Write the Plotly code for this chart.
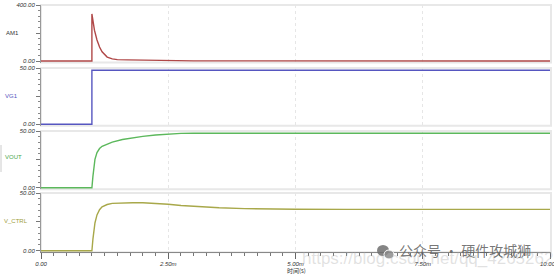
import plotly.graph_objects as go

# ---------------- data (time in ms) ----------------
t_am1 = [0, 1.0, 1.0, 1.02, 1.05, 1.1, 1.15, 1.2, 1.25, 1.3, 1.4, 1.5, 1.7, 2.0, 2.5, 3.0, 10.0]
am1 = [0, 0, 336, 290, 220, 150, 100, 66, 44, 28, 15, 10, 8, 6, 3, 1, 0]

t_vg1 = [0, 1.0, 1.0, 10.0]
vg1 = [0, 0, 48, 48]

t_vout = [0, 1.0, 1.02, 1.04, 1.06, 1.1, 1.15, 1.2, 1.3, 1.4, 1.6, 1.8, 2.0, 2.25, 2.5, 2.75, 3.0, 10.0]
vout = [0, 0, 10, 19, 25, 31, 34.5, 36.5, 38.5, 40.2, 42.5, 44, 45.3, 46.5, 47.4, 47.9, 48, 48]

t_vctrl = [0, 1.0, 1.02, 1.04, 1.06, 1.1, 1.15, 1.2, 1.3, 1.4, 1.6, 1.8, 2.0, 2.25, 2.5, 2.75, 3.0, 3.5, 4.0, 4.5, 5.0, 6.0, 10.0]
vctrl = [0, 0, 10, 18, 24, 31, 35.5, 38, 40, 41, 41.5, 41.6, 41.5, 41, 40.2, 39.2, 38.4, 37.2, 36.5, 36.1, 35.9, 35.8, 35.8]

names = ["AM1", "VG1", "VOUT", "V_CTRL"]
vmaxs = [400, 50, 50, 50]
top_labels = ["400.00", "50.00", "50.00", "50.00"]
x_tickvals = [0, 2.5, 5, 7.5, 10]
x_ticktext = ["0.00", "2.50m", "5.00m", "7.50m", "10.00m"]
x_title = "时间(s)"

# ---------------- styling / layout ----------------
W, H = 554, 274
L, R, T, B = 41, 3, 5, 21
PW, PH = W - L - R, H - T - B
def fy(ypx):
    return (H - B - ypx) / PH
def fx(xpx):
    return (xpx - L) / PW

colors = ["#b04848", "#5656c0", "#5cb85c", "#a8a84a"]
label_colors = ["#333333", "#5656c0", "#4aa84a", "#a0a040"]
panels = [(5, 61), (68, 124.3), (131, 187.7), (193, 250.7)]  # top px, zero px
label_pos = [(4, 33), (3, 96), (3, 157), (2, 221)]

series = [(t_am1, am1), (t_vg1, vg1), (t_vout, vout), (t_vctrl, vctrl)]
tick_font = dict(family="Liberation Sans", size=6, color="#333333", style="italic")

fig = go.Figure()
layout = dict(
    width=W, height=H,
    margin=dict(l=L, r=R, t=T, b=B, autoexpand=False),
    paper_bgcolor="white", plot_bgcolor="white",
    showlegend=False,
    shapes=[], annotations=[],
)

pad = 1.5
for i in range(4):
    yname = "y" if i == 0 else f"y{i+1}"
    tx, vy = series[i]
    fig.add_trace(go.Scatter(x=tx, y=vy, mode="lines", xaxis="x", yaxis=yname,
                             line=dict(color=colors[i], width=1.4),
                             hoverinfo="skip"))
    top, zero = panels[i]
    vmax = vmaxs[i]
    lo = -vmax * pad / (zero - top)
    d0 = max(0.0, fy(zero + pad))
    d1 = min(1.0, fy(top))
    ax = dict(
        domain=[d0, d1],
        range=[lo, vmax],
        anchor="x",
        tickvals=[0, vmax / 2, vmax],
        ticktext=["0.00", "", top_labels[i]],
        ticks="outside", ticklen=4, tickcolor="#777", tickwidth=1,
        minor=dict(dtick=vmax / 10, ticks="outside", ticklen=2, tickcolor="#888", showgrid=False),
        showline=True, linecolor="#999999", linewidth=1,
        showgrid=False, zeroline=False,
        tickfont=tick_font, automargin=False,
        fixedrange=True,
    )
    layout["yaxis" if i == 0 else f"yaxis{i+1}"] = ax
    # panel box
    layout["shapes"].append(dict(type="rect", xref="paper", yref="paper",
                                 x0=0, x1=fx(551), y0=d0, y1=d1,
                                 line=dict(color="#e8e8e8", width=2), layer="below"))
    lx, ly = label_pos[i]
    layout["annotations"].append(dict(text=names[i], xref="paper", yref="paper",
                                      x=fx(lx), y=fy(ly), xanchor="left", yanchor="middle",
                                      showarrow=False,
                                      font=dict(family="Liberation Sans", size=6, color=label_colors[i])))

layout["xaxis"] = dict(
    domain=[0, 1], anchor="y4",
    range=[0, 10 * PW / (550 - L)],
    tickvals=x_tickvals, ticktext=x_ticktext,
    ticks="outside", ticklen=6, tickcolor="#666",
    minor=dict(dtick=0.25, tick0=0, ticks="outside", ticklen=3, tickcolor="#777", showgrid=False),
    showgrid=True, gridcolor="#e6e6e6", griddash="dot", gridwidth=1,
    showline=True, linecolor="#888888", linewidth=1,
    zeroline=False, tickfont=tick_font, fixedrange=True,
    ticklabeloverflow="allow", automargin=False,
)

layout["annotations"].append(dict(text=x_title, xref="paper", yref="paper",
                                  x=fx(296), y=fy(270), xanchor="center", yanchor="middle",
                                  showarrow=False,
                                  font=dict(family="Noto Sans CJK SC", size=6, color="#333")))

# faint marker line left of VOUT label
layout["shapes"].append(dict(type="line", xref="paper", yref="paper",
                             x0=fx(1), x1=fx(1), y0=fy(172), y1=fy(145),
                             line=dict(color="#cccccc", width=1)))

# watermarks
layout["annotations"].append(dict(text="https://blog.csdn.net/qq_42652626", xref="paper", yref="paper",
                                  x=fx(300), y=fy(258), xanchor="left", yanchor="middle",
                                  showarrow=False,
                                  font=dict(family="Liberation Sans", size=17, color="rgba(170,170,170,0.35)")))
layout["annotations"].append(dict(text="公众号 · 硬件攻城狮", xref="paper", yref="paper",
                                  x=fx(397), y=fy(250), xanchor="left", yanchor="middle",
                                  showarrow=False,
                                  font=dict(family="Noto Sans CJK SC", size=14, color="rgba(95,95,95,0.85)")))
layout["shapes"].append(dict(type="circle", xref="paper", yref="paper",
                             x0=fx(377), x1=fx(389), y0=fy(256), y1=fy(245),
                             fillcolor="rgba(110,110,110,0.85)", line=dict(width=0)))
layout["shapes"].append(dict(type="circle", xref="paper", yref="paper",
                             x0=fx(384), x1=fx(394), y0=fy(259), y1=fy(250),
                             fillcolor="rgba(140,140,140,0.85)", line=dict(color="white", width=1)))

fig.update_layout(**layout)
fig.write_html("out.html")
